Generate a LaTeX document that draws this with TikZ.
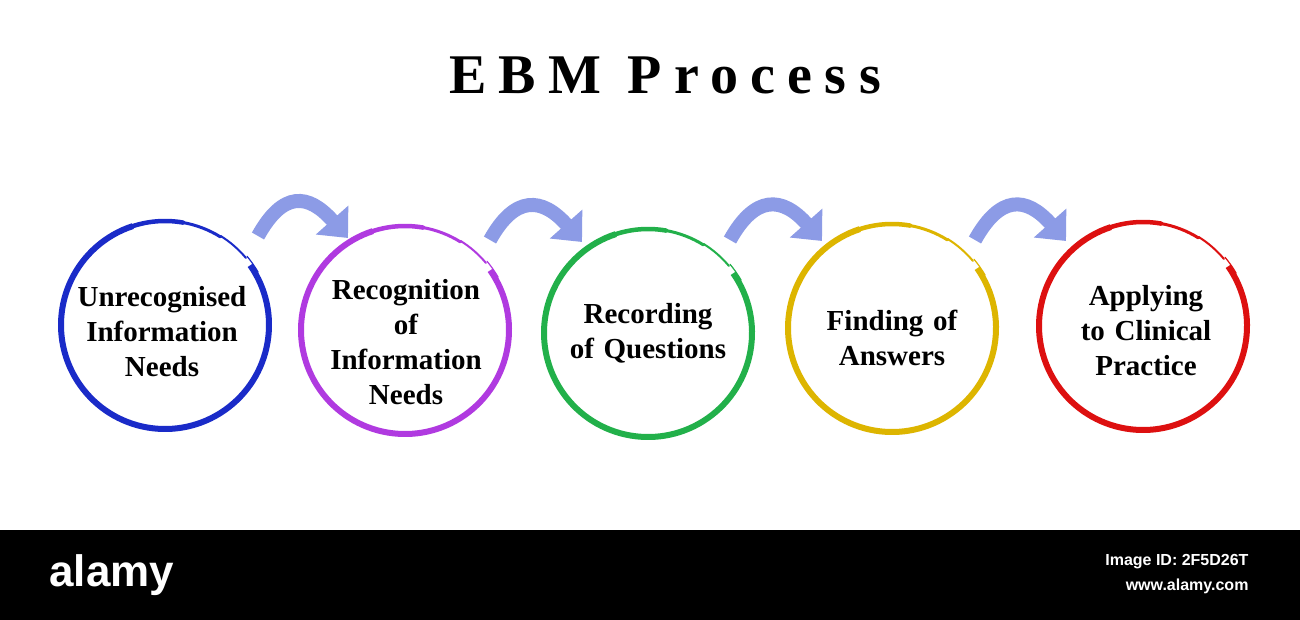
\documentclass[tikz,border=0pt]{standalone}
\usepackage{fontspec}
\setmainfont{Liberation Serif}
\newfontfamily\sansf{Liberation Sans}
\usetikzlibrary{arrows.meta,calc}
\definecolor{c1}{HTML}{1A2BC8}
\definecolor{c2}{HTML}{B03AE0}
\definecolor{c3}{HTML}{22B04A}
\definecolor{c4}{HTML}{DDB500}
\definecolor{c5}{HTML}{DD1010}
\definecolor{arr}{HTML}{8C9BE6}
\tikzset{
  ring/.style={line width=6pt,line cap=butt},
  lbl/.style={font=\fontsize{29}{35}\selectfont\bfseries,align=center,text width=200pt},
  flow/.style={arr,line width=14pt,-{Triangle[length=24pt,width=42pt]}}
}
\newcommand{\ringb}[4]{%
  \draw[ring,#3] (#1,#2) ++(-35:104) arc[start angle=-35,end angle=252,radius=104];
  \draw[#3,line width=4.5pt,line cap=round] (#1,#2) ++(250:104) arc[start angle=250,end angle=280,radius=104];
  \draw[#3,line width=3pt,line cap=round] (#1,#2) ++(280:104) arc[start angle=280,end angle=302,radius=105];
  \draw[#3,line width=2pt,line cap=round] (#1,#2) ++(302:105) arc[start angle=302,end angle=320,radius=107];
  \draw[#3,line width=1.2pt,line cap=round] (#1,#2) ++(320:107) arc[start angle=320,end angle=330,radius=111];
  \coordinate (#4) at (#1,#2);
}
\begin{document}
\begin{tikzpicture}[x=1pt,y=-1pt]
\useasboundingbox (0,0) rectangle (1300,620);
\fill[white] (0,0) rectangle (1300,620);
\node (title) at (665,75) {\fontsize{56}{60}\selectfont\bfseries\addfontfeature{LetterSpace=22}EBM Process};
\ringb{165}{325}{c1}{r1}
\ringb{405}{330}{c2}{r2}
\ringb{648}{333}{c3}{r3}
\ringb{892}{328}{c4}{r4}
\ringb{1143}{326}{c5}{r5}
\node[lbl] (t1) at (162,332) {Unrecognised\\Information\\Needs};
\node[lbl] (t2) at (406,342) {Recognition\\of\\Information\\Needs};
\node[lbl] (t3) at (648,333) {Recording\\of Questions};
\node[lbl] (t4) at (892,338) {Finding of\\Answers};
\node[lbl] (t5) at (1146,331) {Applying\\to Clinical\\Practice};
\coordinate (a1s) at (258,236); \coordinate (a1e) at (348,238);
\coordinate (a2s) at (490,240); \coordinate (a2e) at (582,242);
\coordinate (a3s) at (730,240); \coordinate (a3e) at (822,241);
\coordinate (a4s) at (975,240); \coordinate (a4e) at (1066,241);
\foreach \s/\e in {a1s/a1e,a2s/a2e,a3s/a3e,a4s/a4e}
  \draw[flow] (\s) .. controls ($(\s)+(25,-45)$) and ($(\e)+(-40,-45)$) .. (\e);
\fill[black] (0,530) rectangle (1300,620);
\node[white,font=\sansf\bfseries\fontsize{44}{48}\selectfont,anchor=west] (al) at (46,575) {alamy};
\node[white,font=\sansf\bfseries\fontsize{16}{18}\selectfont,anchor=east] (id) at (1252,562) {Image ID: 2F5D26T};
\node[white,font=\sansf\bfseries\fontsize{16}{18}\selectfont,anchor=east] (www) at (1252,586) {www.alamy.com};
\end{tikzpicture}
\end{document}
